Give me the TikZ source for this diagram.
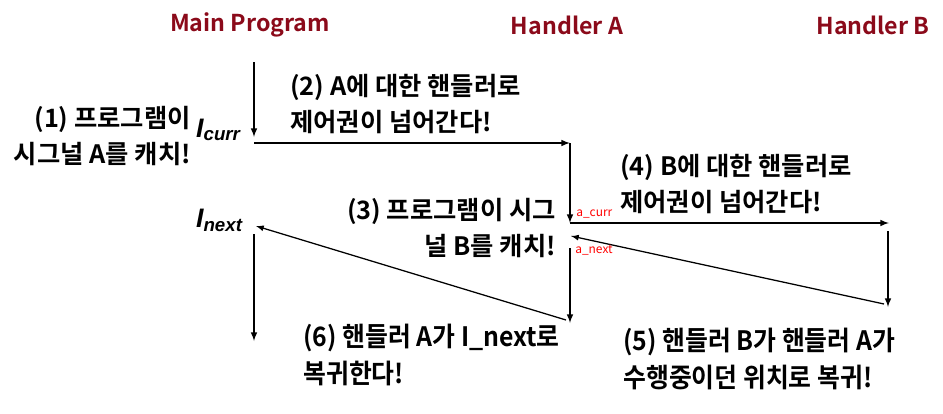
\documentclass[tikz,border=0pt]{standalone}
\usepackage{fontspec}
\usepackage{xcolor}
\usepackage{tikz}
\usetikzlibrary{arrows,positioning,calc}
\newfontfamily\krfont{Noto Sans CJK KR Bold}
\newfontfamily\krcond{Noto Sans CJK KR Bold}[FakeStretch=0.93]
\newfontfamily\krreg{Noto Sans CJK KR}
\newfontfamily\ifont{Liberation Sans}
\definecolor{headred}{HTML}{8B0A1A}
\tikzstyle{head} = [font=\krfont\fontsize{16.5}{19}\selectfont, text=headred, inner sep=0pt]
\tikzstyle{note} = [font=\krfont\fontsize{18}{25.5}\selectfont, inner sep=0pt]
\tikzstyle{notec} = [font=\krcond\fontsize{19}{26.5}\selectfont, inner sep=0pt]
\tikzstyle{iname} = [font=\ifont\bfseries\itshape\fontsize{19}{19}\selectfont, inner sep=0pt]
\tikzstyle{addr} = [font=\krreg\fontsize{8.5}{9}\selectfont, text=red, inner sep=0pt]
\tikzstyle{arrow} = [line width=1.1pt,->,>=latex]
\tikzstyle{slant} = [line width=0.9pt,->,>=latex]

\begin{document}
\begin{tikzpicture}[x=0.025cm, y=-0.025cm]
\useasboundingbox (0,0) rectangle (943,414);

% Titres
\node (main) [head] at (250,25) {Main Program};
\node (hdla) [head] at (567,25) {Handler A};
\node (hdlb) [head] at (873,25) {Handler B};

% Points
\coordinate (m1) at (254,62);
\coordinate (m2) at (254,137);
\coordinate (m3) at (254,143);
\coordinate (a1) at (570,143);
\coordinate (a2) at (570,223);
\coordinate (a3) at (570,223);
\coordinate (b1) at (889,223);
\coordinate (b2) at (888,231);
\coordinate (b3) at (888,307);
\coordinate (b4) at (884,304);
\coordinate (a4) at (571,236);
\coordinate (a5) at (570,248);
\coordinate (a6) at (570,323);
\coordinate (a7) at (566,320);
\coordinate (m4) at (256,226);
\coordinate (m5) at (254,234);
\coordinate (m6) at (254,341);

% Flux
\draw [arrow] (m1) -- (m2);
\draw [arrow] (m3) -- (a1);
\draw [arrow] (a1) -- (a2);
\draw [arrow] (a3) -- (b1);
\draw [arrow] (b2) -- (b3);
\draw [slant] (b4) -- (a4);
\draw [arrow] (a5) -- (a6);
\draw [slant] (a7) -- (m4);
\draw [arrow] (m5) -- (m6);

% Instructions
\node (icurr) [iname, anchor=east] at (241,130) {I\textsubscript{curr}};
\node (inext) [iname, anchor=east] at (243,220) {I\textsubscript{next}};
\node (acurr) [addr, anchor=west] at (576,214) {a\_curr};
\node (anext) [addr, anchor=west] at (575,250) {a\_next};

% Etapes
\node (s1) [note, align=right, anchor=east] at (191,136) {(1) 프로그램이\\시그널 A를 캐치!};
\node (s2) [note, align=left, anchor=west] at (290,104) {(2) A에 대한 핸들러로\\제어권이 넘어간다!};
\node (s3) [note, align=right, anchor=east] at (556,228) {(3) 프로그램이 시그\\널 B를 캐치!};
\node (s4) [note, align=left, anchor=west] at (620,184) {(4) B에 대한 핸들러로\\제어권이 넘어간다!};
\node (s6) [notec, align=left, anchor=west] at (303,355) {(6) 핸들러 A가 I\_next로\\복귀한다!};
\node (s5) [notec, align=left, anchor=west] at (623,359) {(5) 핸들러 B가 핸들러 A가\\수행중이던 위치로 복귀!};

\end{tikzpicture}
\end{document}
